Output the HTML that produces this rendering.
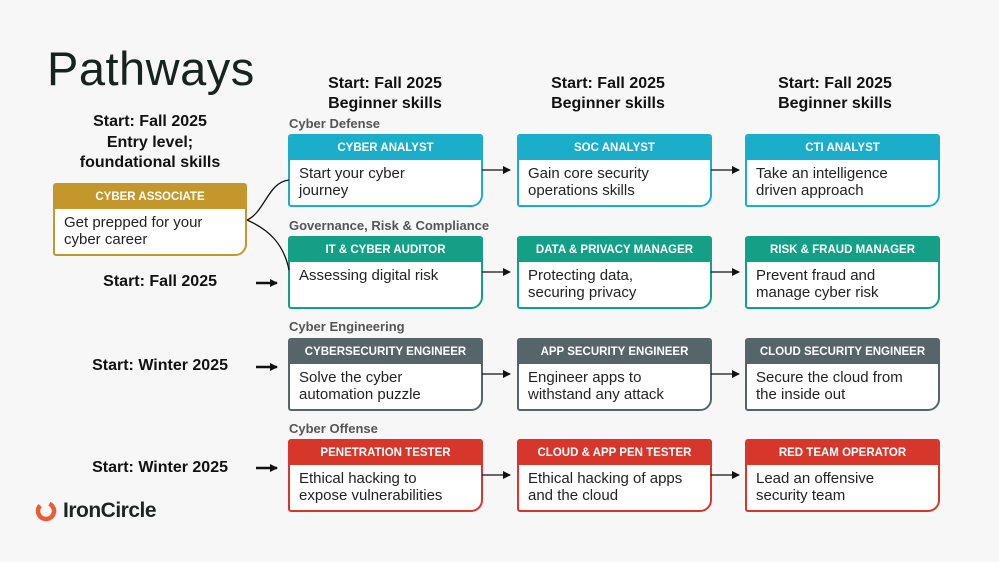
<!DOCTYPE html>
<html><head><meta charset="utf-8"><style>
*{margin:0;padding:0;box-sizing:border-box}
body{width:999px;height:562px;background:#f7f7f7;position:relative;overflow:hidden;font-family:"Liberation Sans",sans-serif;color:#111}
.t{position:absolute;font-weight:bold;text-align:center;font-size:16px;line-height:20px}
.cat{position:absolute;font-weight:bold;font-size:13px;color:#555}
.card{position:absolute;width:195px;height:73px;border:2px solid;border-radius:3px 3px 12px 3px;background:#fff;overflow:hidden}
.card .h{height:24px;color:#fff;font-weight:bold;font-size:11.5px;text-align:center;line-height:24px}
.card .b{padding:5px 0 0 9px;font-size:15px;line-height:17px;color:#222}
.bl{border-color:#1aaecb}.bl .h{background:#1aaecb}
.gr{border-color:#14a086}.gr .h{background:#14a086}
.gy{border-color:#56656a}.gy .h{background:#56656a}
.rd{border-color:#d6372a}.rd .h{background:#d6372a}
.gd{border-color:#c4972c}.gd .h{background:#c4972c}
.la{position:absolute;font-weight:bold;font-size:16px;text-align:right;width:190px}
</style></head><body>
<div style="position:absolute;left:47px;top:41px;font-size:47px;color:#17231f;letter-spacing:0.5px">Pathways</div>

<div class="t" style="left:300px;top:74px;width:170px">Start: Fall 2025<br>Beginner skills</div>
<div class="t" style="left:523px;top:74px;width:170px">Start: Fall 2025<br>Beginner skills</div>
<div class="t" style="left:750px;top:74px;width:170px">Start: Fall 2025<br>Beginner skills</div>
<div class="t" style="left:50px;top:112px;width:200px;line-height:20.5px">Start: Fall 2025<br>Entry level;<br>foundational skills</div>

<div class="cat" style="left:289px;top:116px">Cyber Defense</div>
<div class="cat" style="left:289px;top:218px">Governance, Risk &amp; Compliance</div>
<div class="cat" style="left:289px;top:319px">Cyber Engineering</div>
<div class="cat" style="left:289px;top:421px">Cyber Offense</div>

<div class="card gd" style="left:53px;top:183px;width:194px"><div class="h">CYBER ASSOCIATE</div><div class="b">Get prepped for your<br>cyber career</div></div>

<div class="card bl" style="left:288px;top:134px"><div class="h">CYBER ANALYST</div><div class="b">Start your cyber<br>journey</div></div>
<div class="card bl" style="left:517px;top:134px"><div class="h">SOC ANALYST</div><div class="b">Gain core security<br>operations skills</div></div>
<div class="card bl" style="left:745px;top:134px"><div class="h">CTI ANALYST</div><div class="b">Take an intelligence<br>driven approach</div></div>

<div class="card gr" style="left:288px;top:236px"><div class="h">IT &amp; CYBER AUDITOR</div><div class="b">Assessing digital risk</div></div>
<div class="card gr" style="left:517px;top:236px"><div class="h">DATA &amp; PRIVACY MANAGER</div><div class="b">Protecting data,<br>securing privacy</div></div>
<div class="card gr" style="left:745px;top:236px"><div class="h">RISK &amp; FRAUD MANAGER</div><div class="b">Prevent fraud and<br>manage cyber risk</div></div>

<div class="card gy" style="left:288px;top:338px"><div class="h">CYBERSECURITY ENGINEER</div><div class="b">Solve the cyber<br>automation puzzle</div></div>
<div class="card gy" style="left:517px;top:338px"><div class="h">APP SECURITY ENGINEER</div><div class="b">Engineer apps to<br>withstand any attack</div></div>
<div class="card gy" style="left:745px;top:338px"><div class="h">CLOUD SECURITY ENGINEER</div><div class="b">Secure the cloud from<br>the inside out</div></div>

<div class="card rd" style="left:288px;top:439px"><div class="h">PENETRATION TESTER</div><div class="b">Ethical hacking to<br>expose vulnerabilities</div></div>
<div class="card rd" style="left:517px;top:439px"><div class="h">CLOUD &amp; APP PEN TESTER</div><div class="b">Ethical hacking of apps<br>and the cloud</div></div>
<div class="card rd" style="left:745px;top:439px"><div class="h">RED TEAM OPERATOR</div><div class="b">Lead an offensive<br>security team</div></div>

<div class="la" style="left:27px;top:273px">Start: Fall 2025</div>
<div class="la" style="left:38px;top:357px">Start: Winter 2025</div>
<div class="la" style="left:38px;top:459px">Start: Winter 2025</div>

<svg width="999" height="562" style="position:absolute;left:0;top:0">
<defs><marker id="a" markerWidth="8" markerHeight="8" refX="7" refY="4" orient="auto" markerUnits="userSpaceOnUse"><path d="M0,0 L8,4 L0,8z" fill="#111"/></marker></defs>
<g stroke="#111" stroke-width="1.3" fill="none">
<path d="M247,220 C265,212 268,182 289,180"/>
<path d="M247,220 C270,230 284,245 289,270"/>
<g marker-end="url(#a)">
<line x1="482" y1="170" x2="510" y2="170"/><line x1="711" y1="170" x2="739" y2="170"/>
<line x1="482" y1="272" x2="510" y2="272"/><line x1="711" y1="272" x2="739" y2="272"/>
<line x1="482" y1="374" x2="510" y2="374"/><line x1="711" y1="374" x2="739" y2="374"/>
<line x1="482" y1="475" x2="510" y2="475"/><line x1="711" y1="475" x2="739" y2="475"/>
</g>
<g stroke-width="2.5" marker-end="url(#a)">
<line x1="256" y1="283" x2="277" y2="283"/><line x1="256" y1="367" x2="277" y2="367"/><line x1="256" y1="468" x2="277" y2="468"/>
</g>
</g>
<circle cx="46" cy="511" r="8" fill="none" stroke="#e85c38" stroke-width="4.5" stroke-dasharray="40 10" transform="rotate(-65 46 511)"/>
</svg>
<div style="position:absolute;left:63px;top:499px;font-size:21px;font-weight:bold;color:#1d2522;letter-spacing:-0.5px">IronCircle</div>
</body></html>
